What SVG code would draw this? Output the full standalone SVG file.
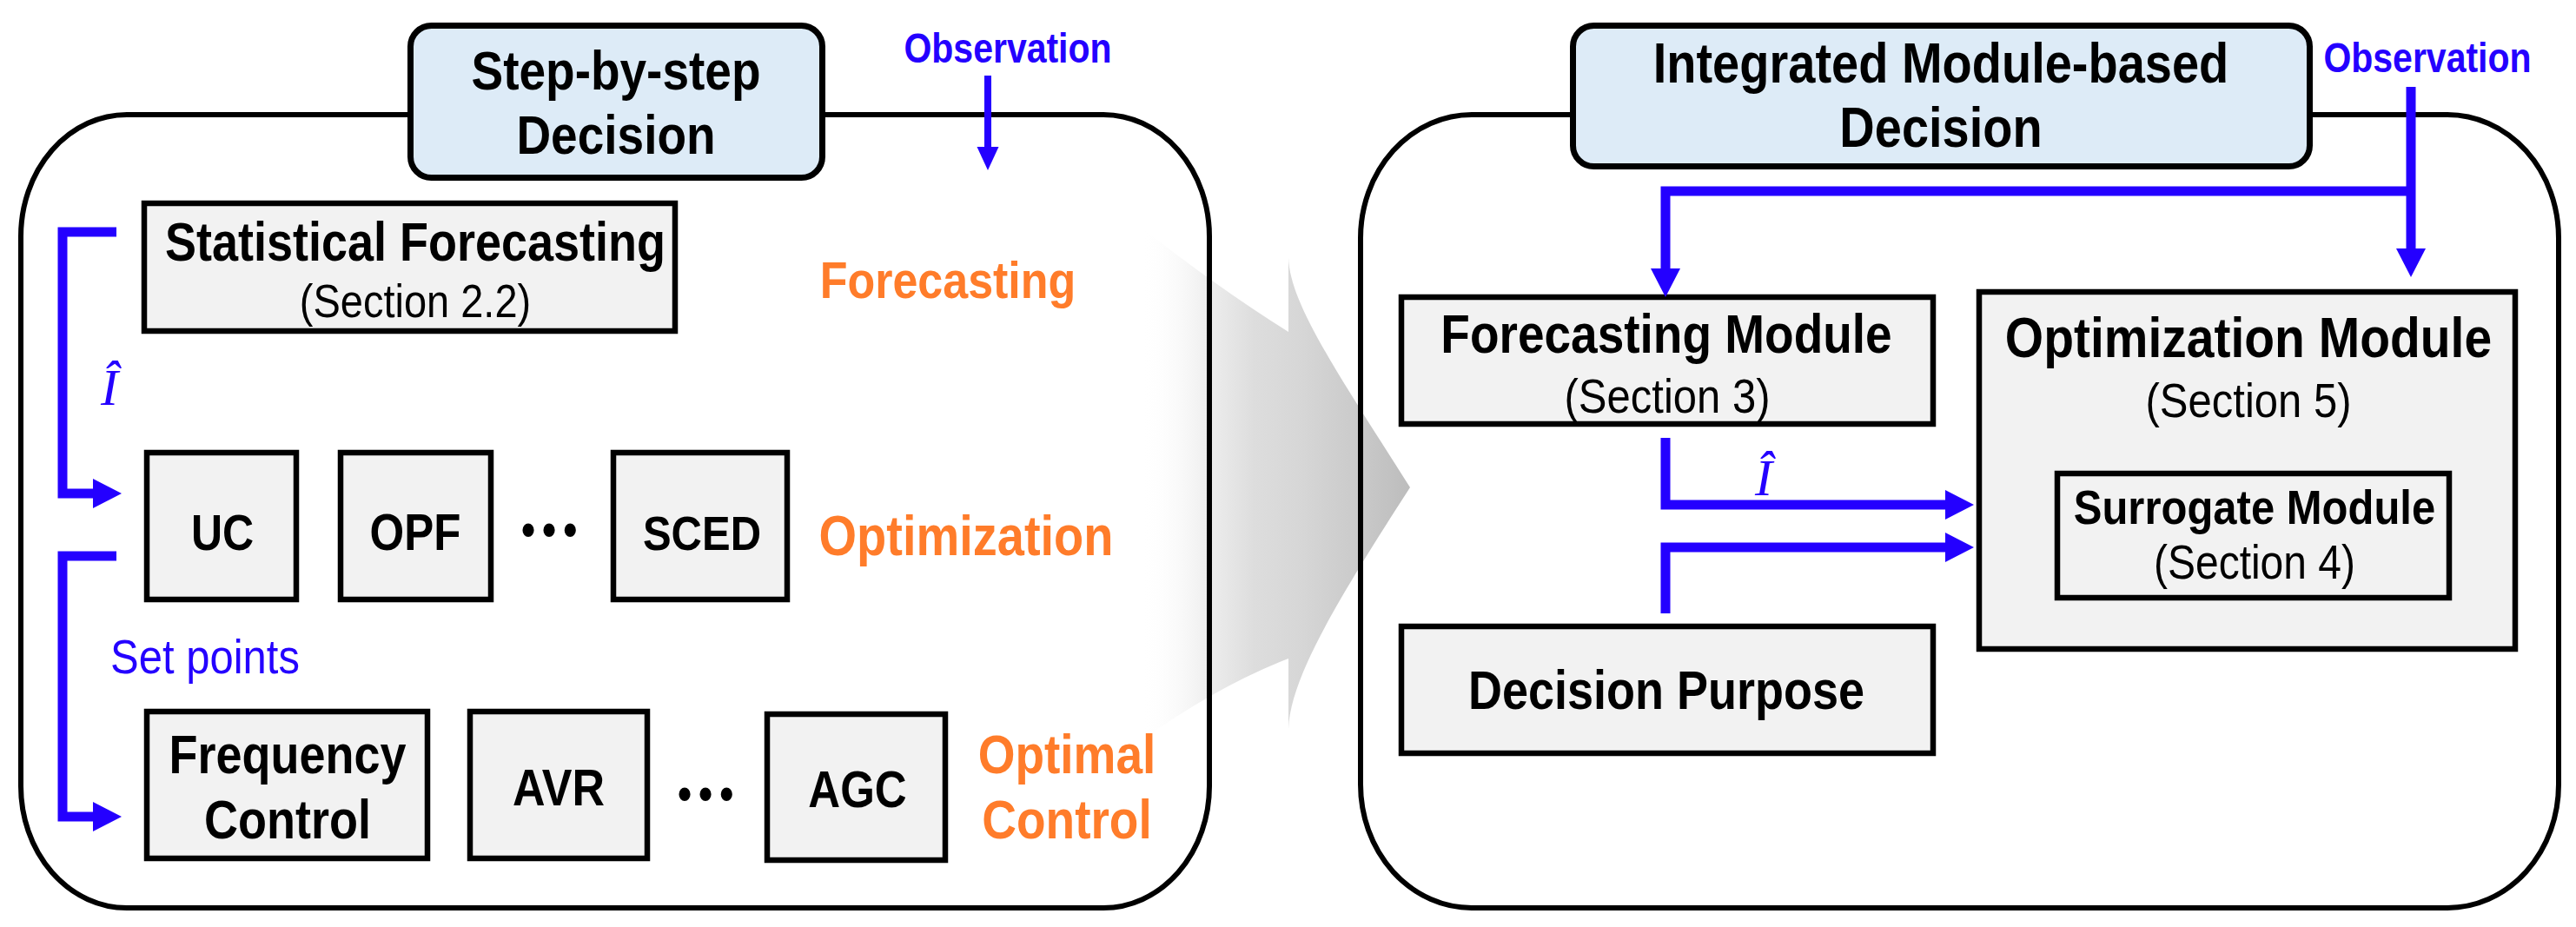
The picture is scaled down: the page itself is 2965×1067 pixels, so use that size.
<svg xmlns="http://www.w3.org/2000/svg" width="2965" height="1067" viewBox="0 0 2965 1067">
<defs>
<linearGradient id="gArrow" gradientUnits="userSpaceOnUse" x1="1312" y1="0" x2="1625" y2="0">
<stop offset="0" stop-color="#ffffff" stop-opacity="0"/>
<stop offset="0.25" stop-color="#eeeeee"/>
<stop offset="0.42" stop-color="#dddddd"/>
<stop offset="0.6" stop-color="#d6d6d6"/>
<stop offset="0.8" stop-color="#cacaca"/>
<stop offset="1" stop-color="#bcbcbc"/>
</linearGradient>
<marker id="headL" markerUnits="userSpaceOnUse" markerWidth="40" markerHeight="40" viewBox="0 -20 40 40" refX="1" refY="0" orient="auto">
<path d="M0,-17 L33,0 L0,17 Z" fill="#2400ff"/>
</marker>
<marker id="headS" markerUnits="userSpaceOnUse" markerWidth="32" markerHeight="32" viewBox="0 -16 32 32" refX="1" refY="0" orient="auto">
<path d="M0,-12.5 L27,0 L0,12.5 Z" fill="#2400ff"/>
</marker>
</defs>
<style>
.outer{fill:none;stroke:#000;stroke-width:6}
.title{fill:#ddebf7;stroke:#000;stroke-width:7}
.box{fill:#f2f2f2;stroke:#000;stroke-width:6.5}
.b,.r,.or,.obs,.bl,.dots{transform-box:fill-box;transform-origin:50% 81%;transform:scaleY(1.15)}
.b{font-family:"Liberation Sans",Arial,sans-serif;font-weight:bold;fill:#000;text-anchor:middle}
.r{font-family:"Liberation Sans",Arial,sans-serif;fill:#000;text-anchor:middle}
.or{font-family:"Liberation Sans",Arial,sans-serif;font-weight:bold;fill:#ff7c2a;text-anchor:middle}
.obs{font-family:"Liberation Sans",Arial,sans-serif;font-weight:bold;fill:#2400ff;text-anchor:middle;font-size:41px}
.bl{font-family:"Liberation Sans",Arial,sans-serif;fill:#2400ff}
.ih{font-family:"Liberation Serif","Times New Roman",serif;font-style:italic;fill:#2400ff;font-size:60px}
.dots{font-family:"Liberation Sans",Arial,sans-serif;font-weight:bold;fill:#000;font-size:46px;letter-spacing:8px}
.wire{fill:none;stroke:#2400ff;stroke-width:11;stroke-linejoin:miter}
</style>
<rect width="2965" height="1067" fill="#ffffff"/>
<g id="transition-arrow">
<path d="M1310 259 Q1400 330 1483 382 V297 C1485 350 1540 430 1623 561 C1540 690 1485 780 1483 839 V758 Q1400 790 1310 855 Z" fill="url(#gArrow)"/>
</g>
<g id="step-by-step-panel">
<rect class="outer" x="24" y="132" width="1368" height="913" rx="122" ry="140"/>
</g>
<g id="integrated-panel">
<rect class="outer" x="1566" y="132" width="1379" height="913" rx="128" ry="142"/>
</g>
<g id="title-step">
<rect class="title" x="472.5" y="29.5" width="474" height="175" rx="24"/>
<text class="b" x="709" y="103" font-size="55">Step-by-step</text>
<text class="b" x="709" y="177" font-size="55">Decision</text>
</g>
<g id="title-integrated">
<rect class="title" x="1810.5" y="29.5" width="848" height="162" rx="24"/>
<text class="b" x="2234" y="95" font-size="56">Integrated Module-based</text>
<text class="b" x="2234" y="169" font-size="56">Decision</text>
</g>
<g id="statistical-forecasting">
<rect class="box" x="166" y="234" width="611" height="147"/>
<text class="b" x="478" y="300" font-size="54">Statistical Forecasting</text>
<text class="r" x="478" y="365" font-size="47">(Section 2.2)</text>
</g>
<g id="uc">
<rect class="box" x="169" y="521" width="172" height="169"/>
<text class="b" x="256" y="633" font-size="50">UC</text>
</g>
<g id="opf">
<rect class="box" x="392" y="521" width="173" height="169"/>
<text class="b" x="478" y="633" font-size="51">OPF</text>
</g>
<g id="sced">
<rect class="box" x="706" y="521" width="200" height="169"/>
<text class="b" x="808" y="633" font-size="49">SCED</text>
</g>
<g id="frequency-control">
<rect class="box" x="169" y="819" width="323" height="169"/>
<text class="b" x="331" y="890" font-size="54">Frequency</text>
<text class="b" x="331" y="965" font-size="54">Control</text>
</g>
<g id="avr">
<rect class="box" x="541" y="819" width="204" height="169"/>
<text class="b" x="643" y="927" font-size="52">AVR</text>
</g>
<g id="agc">
<rect class="box" x="883" y="822" width="205" height="168"/>
<text class="b" x="987" y="929" font-size="51">AGC</text>
</g>
<g id="forecasting-module">
<rect class="box" x="1613" y="342" width="612" height="146"/>
<text class="b" x="1918" y="406" font-size="55">Forecasting Module</text>
<text class="r" x="1919" y="475" font-size="49">(Section 3)</text>
</g>
<g id="optimization-module">
<rect class="box" x="2278" y="336" width="617" height="411"/>
<text class="b" x="2588" y="411" font-size="57">Optimization Module</text>
<text class="r" x="2588" y="480" font-size="49">(Section 5)</text>
</g>
<g id="surrogate-module">
<rect class="box" x="2368" y="545" width="451" height="143"/>
<text class="b" x="2595" y="603" font-size="49">Surrogate Module</text>
<text class="r" x="2595" y="666" font-size="48">(Section 4)</text>
</g>
<g id="decision-purpose">
<rect class="box" x="1613" y="721" width="612" height="146"/>
<text class="b" x="1918" y="816" font-size="54">Decision Purpose</text>
</g>
<g id="labels">
<text class="or" x="1091" y="343" font-size="52">Forecasting</text>
<text class="or" x="1112" y="639" font-size="56">Optimization</text>
<text class="or" x="1228" y="890" font-size="55">Optimal</text>
<text class="or" x="1228" y="965" font-size="55">Control</text>
<text class="obs" x="1160" y="72">Observation</text>
<text class="obs" x="2794" y="83">Observation</text>
<text class="bl" x="127" y="775" font-size="49">Set points</text>
<text class="ih" x="116" y="466">Î</text>
<text class="ih" x="2020" y="570">Î</text>
<text class="dots" x="600" y="628">•••</text>
<text class="dots" x="780" y="932">•••</text>
</g>
<g id="connectors">
<path d="M1137 87 V170" fill="none" stroke="#2400ff" stroke-width="8" marker-end="url(#headS)"/>
<path class="wire" d="M134 267 H72 V568 H108" marker-end="url(#headL)"/>
<path class="wire" d="M134 640 H72 V940 H108" marker-end="url(#headL)"/>
<path class="wire" d="M2775 100 V287" marker-end="url(#headL)"/>
<path class="wire" d="M2775 220 H1917 V310" marker-end="url(#headL)"/>
<path class="wire" d="M1917 504 V581 H2240" marker-end="url(#headL)"/>
<path class="wire" d="M1917 706 V630 H2240" marker-end="url(#headL)"/>
</g>
</svg>
